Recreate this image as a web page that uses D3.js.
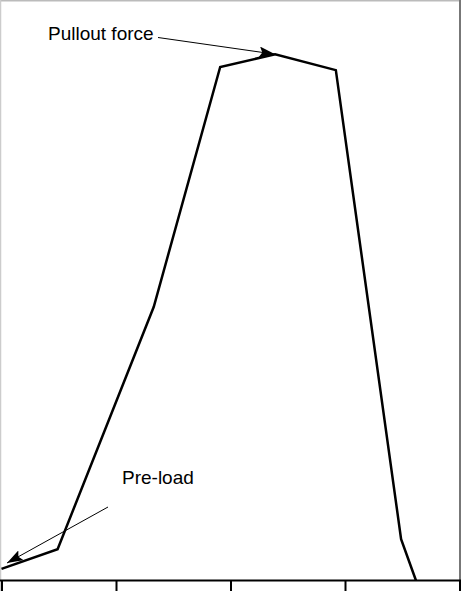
<!DOCTYPE html>
<html><head><meta charset="utf-8">
<script src="https://cdn.jsdelivr.net/npm/d3@7"></script>
<style>
html,body{margin:0;padding:0;background:#fff;}
svg{display:block;}
text{font-family:"Liberation Sans",Arial,Helvetica,sans-serif;}
</style></head>
<body>
<script>
// Data (displacement, force in % of peak)
const xValues = [0, 0.49, 1.33, 1.91, 2.39, 2.92, 3.49, 3.62];
const yValues = [2.2, 5.9, 51.6, 96.8, 99.2, 96.2, 7.8, 0];
const xTicks = [0, 1, 2, 3, 4];
const labels = ["Pullout force", "Pre-load"];

const W = 461, H = 591;
const svg = d3.select("body").append("svg").attr("width", W).attr("height", H);

const x = d3.scaleLinear().domain([0, 4]).range([1.5, 459.5]);
const y = d3.scaleLinear().domain([0, 100]).range([580.5, 50]);

const defs = svg.append("defs");
defs.append("marker").attr("id", "ah").attr("viewBox", "0 0 16 11")
  .attr("refX", 16).attr("refY", 5.5).attr("markerWidth", 16).attr("markerHeight", 11)
  .attr("markerUnits", "userSpaceOnUse").attr("orient", "auto")
  .append("path").attr("d", "M0,0 L16,5.5 L0,11 L3,5.5 Z").attr("fill", "#000");

// frame edges (scan borders)
svg.append("line").attr("x1", 0).attr("x2", W).attr("y1", 0.75).attr("y2", 0.75).attr("stroke", "#bbb").attr("stroke-width", 1.5);
svg.append("line").attr("x1", 0.5).attr("x2", 0.5).attr("y1", 0).attr("y2", H).attr("stroke", "#ccc").attr("stroke-width", 1.5);
svg.append("line").attr("x1", 460).attr("x2", 460).attr("y1", 0).attr("y2", H).attr("stroke", "#777").attr("stroke-width", 2);

// x axis
const axis = d3.axisBottom(x).tickValues(xTicks).tickSize(11).tickFormat("");
const g = svg.append("g").attr("transform", `translate(0,${y(0)})`).call(axis);
g.select(".domain").attr("stroke", "#000").attr("stroke-width", 2).attr("d", `M${x(0)-2},0H${x(4)+2}`);
g.selectAll(".tick line").attr("stroke", "#000").attr("stroke-width", 2);

// curve
const pts = xValues.map((v, i) => [v, yValues[i]]);
svg.append("path").datum(pts)
  .attr("d", d3.line().x(d => x(d[0])).y(d => y(d[1])))
  .attr("fill", "none").attr("stroke", "#000").attr("stroke-width", 2.5)
  .attr("stroke-linejoin", "miter");

// annotations
svg.append("text").attr("x", 48).attr("y", 40).attr("font-size", 19).attr("fill", "#000").text(labels[0]);
svg.append("line").attr("x1", 158).attr("y1", 37.5)
  .attr("x2", x(xValues[4])).attr("y2", y(yValues[4]))
  .attr("stroke", "#000").attr("stroke-width", 1).attr("marker-end", "url(#ah)");

svg.append("text").attr("x", 122).attr("y", 484).attr("font-size", 19).attr("fill", "#000").text(labels[1]);
svg.append("line").attr("x1", 108).attr("y1", 507)
  .attr("x2", 7).attr("y2", 563)
  .attr("stroke", "#000").attr("stroke-width", 1).attr("marker-end", "url(#ah)");
</script>
</body></html>
